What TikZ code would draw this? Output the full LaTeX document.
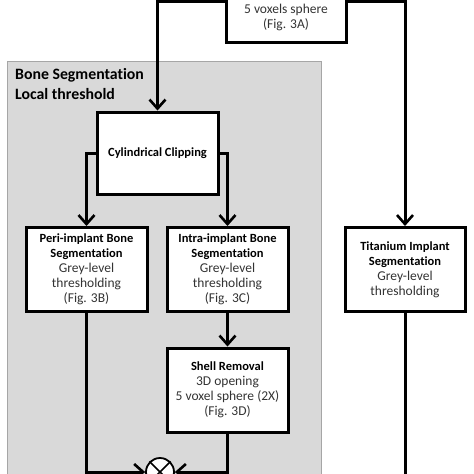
\documentclass[tikz,border=0pt]{standalone}
\usepackage{fontspec}
\setmainfont{Carlito}[Ligatures={NoCommon}]
\usepackage{tikz}
\usetikzlibrary{arrows.meta}
\usepackage{xcolor}

\definecolor{zonegris}{HTML}{D9D9D9}
\definecolor{bordgris}{HTML}{A6A6A6}
\definecolor{textegris}{HTML}{333333}

\tikzset{
  boite/.style={draw, line width=3pt, fill=white, align=center, inner sep=2pt,
    minimum width=121pt, minimum height=84pt, font=\fontsize{12.5}{15}\selectfont},
  fleche/.style={-{Straight Barb[length=9pt, width=16pt, line width=2.6pt]}, line width=3pt},
  trait/.style={line width=3pt},
}

\newcommand{\titre}[1]{\textbf{#1}}
\newcommand{\detail}[1]{{\fontsize{13.5}{15}\selectfont\textcolor{textegris}{#1}}}

\begin{document}
\begin{tikzpicture}[x=1pt, y=-1pt]
                \useasboundingbox (0,0) rectangle (474,474);

                % Zone segmentation osseuse
                \fill[zonegris, draw=bordgris, line width=0.8pt] (7,61) rectangle (321,490);
                \node[anchor=north west, align=left, inner sep=0pt, font=\fontsize{15.8}{20}\selectfont\bfseries] (zone) at (15,68) {Bone Segmentation\\Local threshold};

                % Boites
                \node[boite, minimum width=120pt, minimum height=82pt] (sphere) at (286,1) {};
                \node[align=center, inner sep=0pt, font=\fontsize{12.5}{15}\selectfont] (spheretexte) at (286,17) {\detail{5 voxels sphere}\\\detail{(Fig. 3A)}};
                \node[boite, minimum height=82pt] (clip) at (157.5,153) {\titre{Cylindrical Clipping}};
                \node[boite] (peri) at (86.5,269.5) {\titre{Peri-implant Bone}\\\titre{Segmentation}\\\detail{Grey-level}\\\detail{thresholding}\\\detail{(Fig. 3B)}};
                \node[boite] (intra) at (227.5,269.5) {\titre{Intra-implant Bone}\\\titre{Segmentation}\\\detail{Grey-level}\\\detail{thresholding}\\\detail{(Fig. 3C)}};
                \node[boite, minimum width=120pt] (titane) at (405,269.5) {\titre{Titanium Implant}\\\titre{Segmentation}\\\detail{Grey-level}\\\detail{thresholding}};
                \node[boite] (coque) at (227.5,390) {\titre{Shell Removal}\\\detail{3D opening}\\\detail{5 voxel sphere (2X)}\\\detail{(Fig. 3D)}};

                % Operateur de combinaison
                \node[circle, draw, fill=white, line width=1.8pt, minimum size=28pt, inner sep=0pt] (produit) at (160,472) {};
                \draw[line width=1.5pt] (produit.45) -- (produit.225);
                \draw[line width=1.5pt] (produit.135) -- (produit.315);

                \coordinate (titanefin) at (405,480);

                % Fleches
                \draw[fleche] (sphere.west) -| (clip.north);
                \draw[fleche] (sphere.east) -| (titane.north);
                \draw[fleche] (clip.west) -| (peri.north);
                \draw[fleche] (clip.east) -| (intra.north);
                \draw[fleche] (intra.south) -- (coque.north);
                \draw[fleche] (peri.south) |- (produit.west);
                \draw[fleche] (coque.south) |- (produit.east);
                \draw[trait] (titane.south) -- (titanefin);

            \end{tikzpicture}
\end{document}
